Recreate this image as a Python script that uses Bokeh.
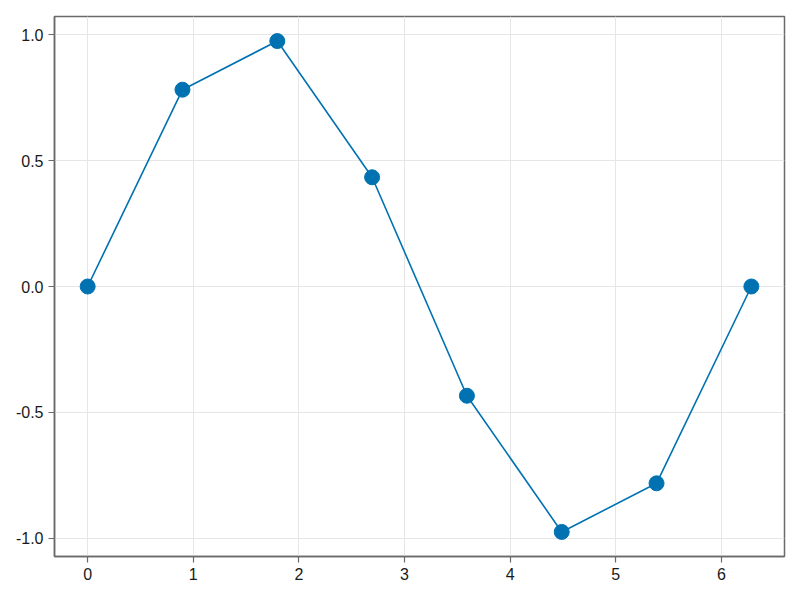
from bokeh.plotting import figure
from bokeh.models import Range1d, FixedTicker, PrintfTickFormatter
from bokeh.embed import file_html
from bokeh.resources import INLINE

xs = [0.0, 0.8976, 1.7952, 2.6928, 3.5904, 4.4880, 5.3856, 6.2832]
ys = [0.0, 0.7818, 0.9749, 0.4339, -0.4339, -0.9749, -0.7818, 0.0]
x_ticks = [0, 1, 2, 3, 4, 5, 6]
y_ticks = [-1.0, -0.5, 0.0, 0.5, 1.0]

BLUE = "#0072B2"

p = figure(width=800, height=600, output_backend="svg", toolbar_location=None,
           x_range=Range1d(-0.314, 6.597), y_range=Range1d(-1.0725, 1.0725),
           min_border_left=54, min_border_right=16, min_border_top=16, min_border_bottom=44)

p.line(xs, ys, line_color=BLUE, line_width=1.6)
p.scatter(xs, ys, size=15, fill_color=BLUE, line_color=BLUE)

p.outline_line_color = "#6a6a6a"
p.outline_line_width = 1.5
p.background_fill_color = "white"
p.border_fill_color = "white"

for ax, ticks in ((p.xaxis[0], x_ticks), (p.yaxis[0], y_ticks)):
    ax.ticker = FixedTicker(ticks=ticks)
    ax.axis_line_color = "#6a6a6a"
    ax.axis_line_width = 1.5
    ax.major_tick_line_color = "#6a6a6a"
    ax.major_tick_line_width = 1.2
    ax.major_tick_out = 6
    ax.major_tick_in = 0
    ax.minor_tick_line_color = None
    ax.major_label_text_font = "Liberation Sans"
    ax.major_label_text_font_size = "16px"
    ax.major_label_text_color = "#1a1a1a"
    ax.major_label_standoff = 5

p.xaxis[0].formatter = PrintfTickFormatter(format="%d")
p.yaxis[0].formatter = PrintfTickFormatter(format="%.1f")

p.xgrid[0].ticker = FixedTicker(ticks=x_ticks)
p.ygrid[0].ticker = FixedTicker(ticks=y_ticks)
for g in (p.xgrid[0], p.ygrid[0]):
    g.grid_line_color = "#e6e6e6"
    g.grid_line_width = 1

open("out.html", "w").write(file_html(p, INLINE))
